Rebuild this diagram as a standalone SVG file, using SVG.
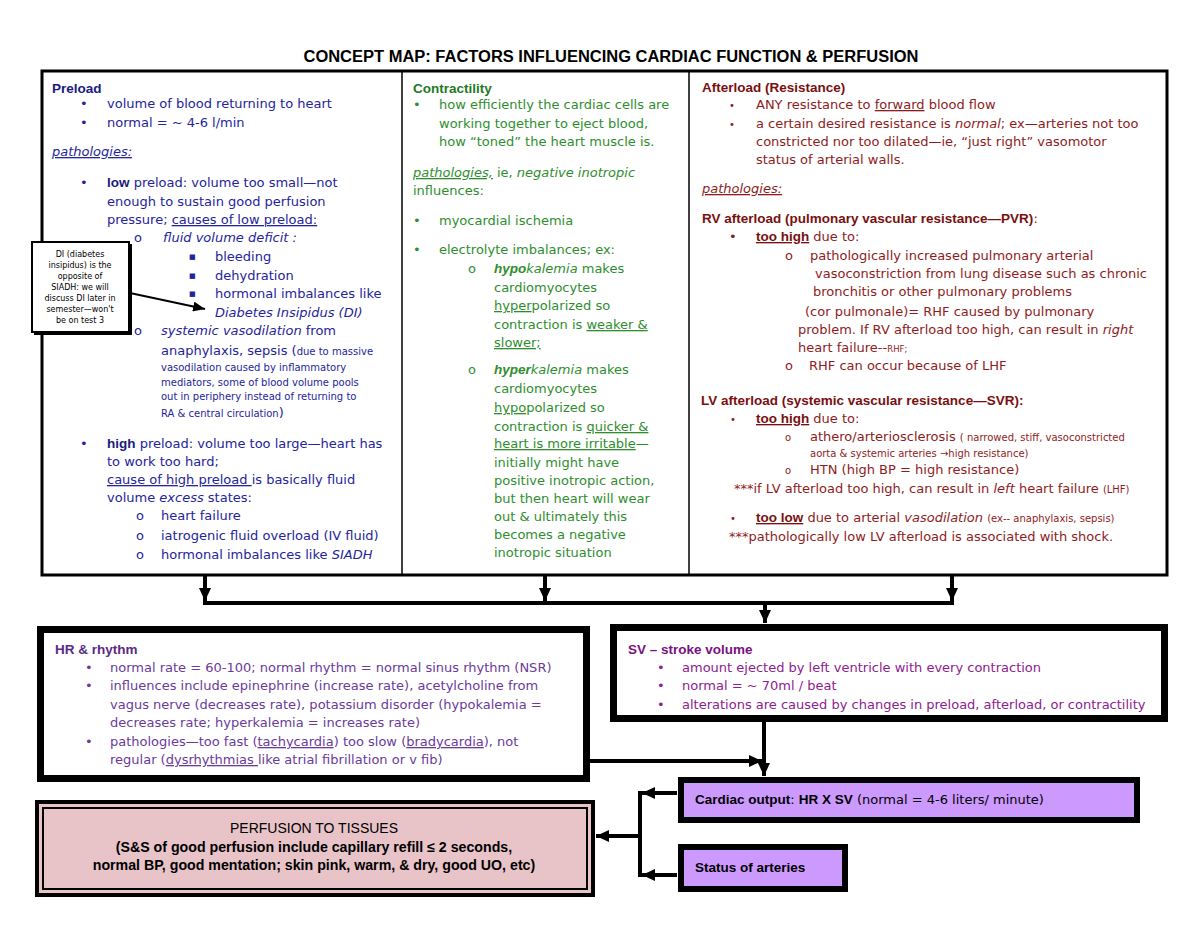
<svg xmlns="http://www.w3.org/2000/svg" width="1200" height="927" viewBox="0 0 1200 927">
<defs>
<style>
text{font-family:"DejaVu Sans","Liberation Sans",Arial,sans-serif;font-size:13px}
.b{font-family:"Liberation Sans",Arial,sans-serif;font-size:13.5px;font-weight:bold}
.i{font-style:italic}
.u{text-decoration:underline}
.s{font-size:10px}
.pl{fill:#24249C}
.plh{fill:#1A1A80}
.ct{fill:#2E8E2E}
.cth{fill:#1F7A1F}
.af{fill:#8E1C1C}
.afh{fill:#7A0F0F}
.hr{fill:#6A3A9C}
.hrh{fill:#5A2A86}
.sv{fill:#8E2090}
.svh{fill:#7A1080}
.blk{fill:#000}
.sq{font-size:7px}
.conn{stroke:#000;stroke-width:4;fill:none}
</style>
<marker id="ah" markerUnits="userSpaceOnUse" markerWidth="14" markerHeight="12" refX="13" refY="6" orient="auto">
<path d="M0,0 L13,6 L0,12 z" fill="#000"/>
</marker>
<marker id="ahs" markerUnits="userSpaceOnUse" markerWidth="12" markerHeight="10" refX="12" refY="5" orient="auto">
<path d="M0,0 L12,5 L0,10 z" fill="#000"/>
</marker>
</defs>
<rect width="1200" height="927" fill="#fff"/>

<text x="611" y="62" text-anchor="middle" class="b blk" style="font-size:16px" textLength="615" lengthAdjust="spacingAndGlyphs">CONCEPT MAP: FACTORS INFLUENCING CARDIAC FUNCTION &amp; PERFUSION</text>

<g id="factors-frame">
<rect x="42" y="71" width="1125" height="504" fill="#fff" stroke="#000" stroke-width="3"/>
<line x1="402" y1="71" x2="402" y2="575" stroke="#000" stroke-width="1.5"/>
<line x1="689" y1="71" x2="689" y2="575" stroke="#000" stroke-width="1.5"/>
</g>

<g id="preload">
<text x="52" y="93" class="b plh">Preload</text>
<text x="80" y="108" class="pl">•</text><text x="107" y="108" class="pl">volume of blood returning to heart</text>
<text x="80" y="127" class="pl">•</text><text x="107" y="127" class="pl">normal = ~ 4-6 l/min</text>
<text x="52" y="156" class="pl i u">pathologies:  </text>
<text x="80" y="187" class="pl">•</text><text x="107" y="187" class="pl"><tspan class="b" style="fill:#1A1A80">low</tspan> preload: volume too small—not</text>
<text x="107" y="206" class="pl">enough to sustain good perfusion</text>
<text x="107" y="224" class="pl">pressure; <tspan class="u">causes of low preload:</tspan></text>
<text x="134" y="242" class="pl">o</text><text x="163" y="242" class="pl i">fluid volume deficit :</text>
<text x="189" y="259" class="pl sq">■</text><text x="215" y="261" class="pl">bleeding</text>
<text x="189" y="278" class="pl sq">■</text><text x="215" y="280" class="pl">dehydration</text>
<text x="189" y="296" class="pl sq">■</text><text x="215" y="298" class="pl">hormonal imbalances like</text>
<text x="215" y="317" class="pl i">Diabetes Insipidus (DI)</text>
<text x="134" y="335" class="pl">o</text><text x="161" y="335" class="pl"><tspan class="i">systemic vasodilation</tspan> from</text>
<text x="161" y="355" class="pl">anaphylaxis, sepsis (<tspan class="s">due to massive</tspan></text>
<text x="161" y="371" class="pl s">vasodilation caused by inflammatory</text>
<text x="161" y="386" class="pl s">mediators, some of blood volume pools</text>
<text x="161" y="400" class="pl s">out in periphery instead of returning to</text>
<text x="161" y="417" class="pl"><tspan class="s">RA &amp; central circulation</tspan>)</text>
<text x="80" y="448" class="pl">•</text><text x="107" y="448" class="pl"><tspan class="b" style="fill:#1A1A80">high</tspan> preload: volume too large—heart has</text>
<text x="107" y="466" class="pl">to work too hard;</text>
<text x="107" y="484" class="pl"><tspan class="u">cause of high preload </tspan>is basically fluid</text>
<text x="107" y="502" class="pl">volume <tspan class="i">excess</tspan> states:</text>
<text x="136" y="520" class="pl">o</text><text x="161" y="520" class="pl">heart failure</text>
<text x="136" y="540" class="pl">o</text><text x="161" y="540" class="pl">iatrogenic fluid overload (IV fluid)</text>
<text x="136" y="559" class="pl">o</text><text x="161" y="559" class="pl">hormonal imbalances like <tspan class="i">SIADH</tspan></text>
</g>

<g id="di-note">
<rect x="34" y="244" width="98" height="91" fill="#000"/>
<rect x="32" y="242" width="97" height="90" fill="#fff" stroke="#000" stroke-width="2"/>
<text x="80" y="257" text-anchor="middle" class="blk" style="font-size:8px">DI (diabetes</text>
<text x="80" y="268" text-anchor="middle" class="blk" style="font-size:8px">insipidus) is the</text>
<text x="80" y="279" text-anchor="middle" class="blk" style="font-size:8px">opposite of</text>
<text x="80" y="290" text-anchor="middle" class="blk" style="font-size:8px">SIADH: we will</text>
<text x="80" y="301" text-anchor="middle" class="blk" style="font-size:8px">discuss DI later in</text>
<text x="80" y="312" text-anchor="middle" class="blk" style="font-size:8px">semester—won't</text>
<text x="80" y="323" text-anchor="middle" class="blk" style="font-size:8px">be on test 3</text>
</g>

<g id="contractility">
<text x="413" y="93" class="b cth">Contractility</text>
<text x="413" y="109" class="ct">•</text><text x="439" y="109" class="ct">how efficiently the cardiac cells are</text>
<text x="439" y="128" class="ct">working together to eject blood,</text>
<text x="439" y="146" class="ct">how “toned” the heart muscle is.</text>
<text x="413" y="177" class="ct"><tspan class="i u">pathologies,</tspan> ie, <tspan class="i">negative inotropic</tspan></text>
<text x="413" y="195" class="ct">influences:</text>
<text x="413" y="225" class="ct">•</text><text x="439" y="225" class="ct">myocardial ischemia</text>
<text x="413" y="254" class="ct">•</text><text x="439" y="254" class="ct">electrolyte imbalances; ex:</text>
<text x="468" y="273" class="ct">o</text><text x="494" y="273" class="ct"><tspan class="b i">hypo</tspan><tspan class="i">kalemia</tspan> makes</text>
<text x="494" y="292" class="ct">cardiomyocytes</text>
<text x="494" y="310" class="ct"><tspan class="u">hyper</tspan>polarized so</text>
<text x="494" y="329" class="ct">contraction is <tspan class="u">weaker &amp; </tspan></text>
<text x="494" y="347" class="ct u">slower;</text>
<text x="468" y="374" class="ct">o</text><text x="494" y="374" class="ct"><tspan class="b i">hyper</tspan><tspan class="i">kalemia</tspan> makes</text>
<text x="494" y="393" class="ct">cardiomyocytes</text>
<text x="494" y="412" class="ct"><tspan class="u">hypo</tspan>polarized so</text>
<text x="494" y="431" class="ct">contraction is <tspan class="u">quicker &amp; </tspan></text>
<text x="494" y="448" class="ct"><tspan class="u">heart is more irritable</tspan>—</text>
<text x="494" y="467" class="ct">initially might  have</text>
<text x="494" y="485" class="ct">positive inotropic action,</text>
<text x="494" y="503" class="ct">but then heart will wear</text>
<text x="494" y="521" class="ct">out &amp; ultimately this</text>
<text x="494" y="539" class="ct">becomes a negative</text>
<text x="494" y="557" class="ct">inotropic situation</text>
</g>

<g id="afterload">
<text x="702" y="92" class="b afh">Afterload (Resistance)</text>
<text x="729" y="109" class="af" style="font-size:10px">•</text><text x="756" y="109" class="af">ANY resistance to <tspan class="u">forward</tspan> blood flow</text>
<text x="729" y="128" class="af" style="font-size:10px">•</text><text x="756" y="128" class="af">a certain desired resistance is <tspan class="i">normal</tspan>;  ex—arteries not too</text>
<text x="756" y="146" class="af">constricted nor too dilated—ie, “just right” vasomotor</text>
<text x="756" y="164" class="af">status of arterial walls.</text>
<text x="702" y="193" class="af i u">pathologies:</text>
<text x="702" y="223" class="af"><tspan class="b" style="fill:#7A0F0F">RV afterload (pulmonary vascular resistance—PVR)</tspan>:</text>
<text x="729" y="241" class="af">•</text><text x="756" y="241" class="af"><tspan class="b u" style="fill:#7A0F0F">too high</tspan> due to:</text>
<text x="785" y="260" class="af">o</text><text x="810" y="260" class="af">pathologically increased pulmonary arterial</text>
<text x="815" y="278" class="af">vasoconstriction from lung disease such as chronic</text>
<text x="813" y="296" class="af">bronchitis or other pulmonary problems</text>
<text x="805" y="316" class="af">(cor  pulmonale)= RHF caused by pulmonary</text>
<text x="798" y="334" class="af">problem.  If RV afterload too high, can result in <tspan class="i">right</tspan></text>
<text x="798" y="352" class="af">heart failure--<tspan style="font-size:8.5px">RHF;</tspan></text>
<text x="785" y="370" class="af">o</text><text x="809" y="370" class="af">RHF can occur because of LHF</text>
<text x="701" y="405" class="b afh">LV afterload (systemic vascular resistance—SVR):</text>
<text x="730" y="423" class="af" style="font-size:10px">•</text><text x="756" y="423" class="af"><tspan class="b u" style="fill:#7A0F0F">too high</tspan> due to:</text>
<text x="785" y="441" class="af" style="font-size:10px">o</text><text x="810" y="441" class="af">athero/arteriosclerosis <tspan class="s">( narrowed, stiff, vasoconstricted</tspan></text>
<text x="810" y="457" class="af s">aorta &amp; systemic arteries →high resistance)</text>
<text x="785" y="474" class="af" style="font-size:10px">o</text><text x="810" y="474" class="af">HTN (high BP = high resistance)</text>
<text x="734" y="493" class="af">***if LV afterload too high, can result in <tspan class="i">left</tspan> heart failure <tspan class="s">(LHF)</tspan></text>
<text x="730" y="522" class="af" style="font-size:10px">•</text><text x="756" y="522" class="af"><tspan class="b u" style="fill:#7A0F0F">too low</tspan> due to arterial <tspan class="i">vasodilation</tspan> <tspan class="s">(ex-- anaphylaxis, sepsis)</tspan></text>
<text x="729" y="541" class="af">***pathologically low LV afterload is associated with shock.</text>
</g>

<g id="hr-rhythm">
<rect x="40.5" y="629.5" width="546" height="149" fill="#fff" stroke="#000" stroke-width="7"/>
<text x="55" y="654" class="b hrh">HR &amp; rhythm</text>
<text x="85" y="672" class="hr">•</text><text x="110" y="672" class="hr">normal rate = 60-100; normal rhythm = normal sinus rhythm (NSR)</text>
<text x="85" y="690" class="hr">•</text><text x="110" y="690" class="hr">influences include epinephrine (increase rate), acetylcholine from</text>
<text x="110" y="709" class="hr">vagus nerve (decreases rate), potassium disorder (hypokalemia =</text>
<text x="110" y="727" class="hr">decreases rate; hyperkalemia = increases rate)</text>
<text x="85" y="746" class="hr">•</text><text x="110" y="746" class="hr">pathologies—too fast (<tspan class="u">tachycardia</tspan>) too slow (<tspan class="u">bradycardia</tspan>), not</text>
<text x="110" y="764" class="hr">regular (<tspan class="u">dysrhythmias </tspan>like atrial fibrillation or v fib)</text>
</g>

<g id="stroke-volume">
<rect x="613.5" y="627.5" width="551" height="91" fill="#fff" stroke="#000" stroke-width="7"/>
<text x="628" y="654" class="b svh">SV – stroke volume</text>
<text x="657" y="672" class="sv">•</text><text x="682" y="672" class="sv">amount ejected by left ventricle with every contraction</text>
<text x="657" y="690" class="sv">•</text><text x="682" y="690" class="sv">normal = ~ 70ml / beat</text>
<text x="657" y="709" class="sv">•</text><text x="682" y="709" class="sv">alterations are caused by changes in preload, afterload, or contractility</text>
</g>

<g id="cardiac-output">
<rect x="681" y="780" width="456" height="40" fill="#CC99FF" stroke="#000" stroke-width="6"/>
<text x="695" y="804" class="blk"><tspan class="b">Cardiac output</tspan>:  <tspan class="b">HR X SV</tspan> (normal = 4-6 liters/ minute)</text>
</g>

<g id="status-arteries">
<rect x="681" y="847" width="164" height="42" fill="#CC99FF" stroke="#000" stroke-width="6"/>
<text x="695" y="872" class="b blk">Status of arteries</text>
</g>

<g id="perfusion">
<rect x="37" y="802" width="556" height="93" fill="#E8C4C9" stroke="#000" stroke-width="4"/>
<rect x="43" y="808" width="544" height="81" fill="none" stroke="#000" stroke-width="2"/>
<text x="314" y="833" text-anchor="middle" class="blk" style="font-family:'Liberation Sans',Arial,sans-serif;font-size:14px">PERFUSION TO TISSUES</text>
<text x="314" y="852" text-anchor="middle" class="b blk" style="font-size:14.2px">(S&amp;S of good perfusion include capillary refill ≤ 2 seconds,</text>
<text x="314" y="870" text-anchor="middle" class="b blk" style="font-size:14.2px">normal BP, good mentation; skin pink, warm, &amp; dry, good UO, etc)</text>
</g>

<g id="connectors">
<line x1="130" y1="293" x2="205" y2="309" stroke="#000" stroke-width="2" marker-end="url(#ahs)"/>
<line x1="205" y1="576" x2="205" y2="601" class="conn" marker-end="url(#ah)"/>
<line x1="545" y1="576" x2="545" y2="601" class="conn" marker-end="url(#ah)"/>
<line x1="952" y1="576" x2="952" y2="601" class="conn" marker-end="url(#ah)"/>
<line x1="203" y1="603" x2="954" y2="603" class="conn"/>
<line x1="765" y1="603" x2="765" y2="623" class="conn" marker-end="url(#ah)"/>
<line x1="590" y1="761" x2="762" y2="761" class="conn" marker-end="url(#ah)"/>
<line x1="764" y1="722" x2="764" y2="776" class="conn" marker-end="url(#ah)"/>
<line x1="677" y1="793" x2="642" y2="793" class="conn" marker-end="url(#ah)"/>
<line x1="677" y1="875" x2="642" y2="875" class="conn" marker-end="url(#ah)"/>
<line x1="640" y1="791" x2="640" y2="877" class="conn"/>
<line x1="640" y1="836" x2="596" y2="836" class="conn" marker-end="url(#ah)"/>
</g>
</svg>
